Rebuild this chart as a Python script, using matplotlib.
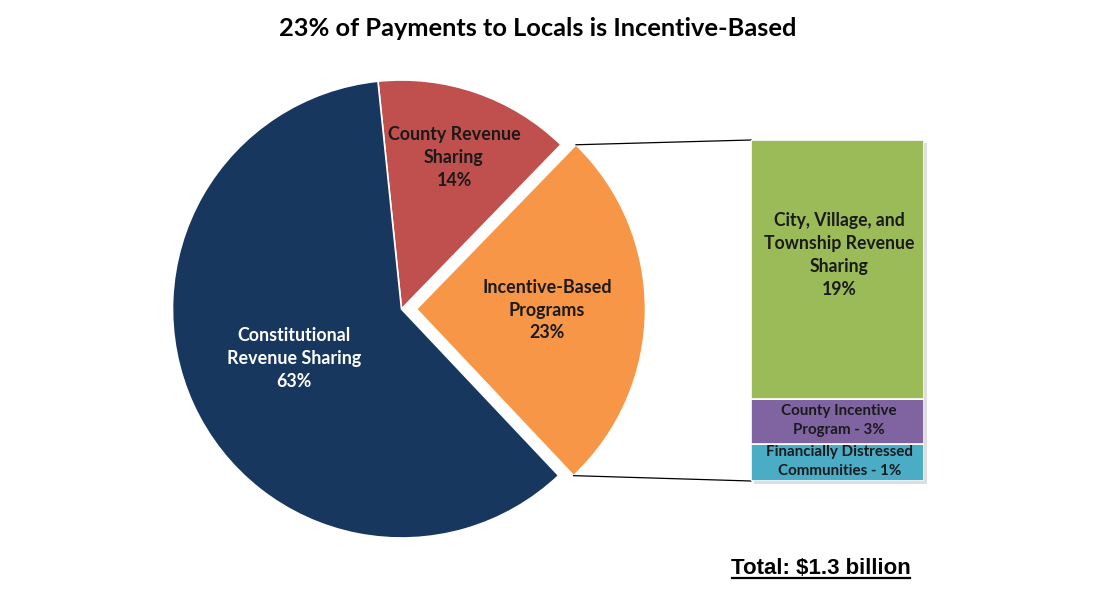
import matplotlib
matplotlib.use('Agg')
import matplotlib.pyplot as plt
import numpy as np
from matplotlib.lines import Line2D
from matplotlib.patches import Rectangle

W, H = 1109, 606

# ---- data ----
pie_labels = ['County Revenue\nSharing\n14%',
              'Incentive-Based\nPrograms\n23%',
              'Constitutional\nRevenue Sharing\n63%']
pie_values = [13.9, 25.7, 60.4]
pie_colors = ['#C0504D', '#F79646', '#17375E']
pie_text_colors = ['#1a1a1a', '#1a1a1a', 'white']

bar_labels = ['Financially Distressed\nCommunities - 1%',
              'County Incentive\nProgram - 3%',
              'City, Village, and\nTownship Revenue\nSharing\n19%']
bar_values = [2.8, 3.4, 19.5]
bar_colors = ['#4BACC6', '#8064A2', '#9BBB59']

title = '23% of Payments to Locals is Incentive-Based'
total_text = 'Total: $1.3 billion'

# ---- layout ----
FONT = 'Lato'
fig = plt.figure(figsize=(W / 100, H / 100), dpi=100)
ax = fig.add_axes([0, 0, 1, 1])

cx, cy, R = 401.5, H - 309, 229
wedges, _ = ax.pie(pie_values, colors=pie_colors, startangle=95.9,
                   counterclock=False, center=(cx, cy), radius=R,
                   wedgeprops=dict(edgecolor='white', linewidth=1.2))
ax.set_xlim(0, W)
ax.set_ylim(0, H)
ax.set_aspect('auto')
ax.axis('off')

# explode the incentive slice
ow = wedges[1]
tm = np.deg2rad((ow.theta1 + ow.theta2) / 2)
explode_px = 15
ow.set_center((cx + explode_px * np.cos(tm), cy + explode_px * np.sin(tm)))

label_dist = [0.70, 0.57, 0.515]
for w, lab, col, d in zip(wedges, pie_labels, pie_text_colors, label_dist):
    t = np.deg2rad((w.theta1 + w.theta2) / 2)
    x0, y0 = w.center
    ax.text(x0 + d * R * np.cos(t), y0 + d * R * np.sin(t), lab,
            ha='center', va='center', color=col, fontsize=12.9,
            fontweight='bold', family=FONT, linespacing=1.42)

# ---- bar of pie ----
bl, bb, bw, bh = 751, H - 481, 173, 341
# shadow
ax.add_patch(Rectangle((bl + 3, bb - 3), bw, bh, facecolor='#d0d0d0',
                       edgecolor='none', alpha=0.7, zorder=0))
bax = fig.add_axes([bl / W, bb / H, bw / W, bh / H])
bottoms = np.concatenate([[0], np.cumsum(bar_values)[:-1]])
bax.bar(0, bar_values, bottom=bottoms, width=1, color=bar_colors,
        edgecolor='white', linewidth=1.2)
bax.set_xlim(-0.5, 0.5)
bax.set_ylim(0, sum(bar_values))
bax.axis('off')

bar_fs = [10.9, 10.9, 12.7]
bar_ls = [1.45, 1.45, 1.43]
bar_shift = [0.1, 0.05, 1.1]
for b, v, lab, fs, ls, sh in zip(bottoms, bar_values, bar_labels, bar_fs,
                                 bar_ls, bar_shift):
    bax.text(0.01, b + v / 2 + sh, lab, ha='center', va='center',
             fontsize=fs, fontweight='bold', family=FONT,
             color='#1a1a1a', linespacing=ls)

# connector lines
ocx, ocy = ow.center
for th, by in [(ow.theta2, bb + bh), (ow.theta1, bb)]:
    t = np.deg2rad(th)
    px, py = ocx + R * np.cos(t), ocy + R * np.sin(t)
    ax.add_line(Line2D([px, bl], [py, by], color='black', lw=0.9))

# ---- texts ----
ax.text(538, H - 28, title, ha='center', va='center', fontsize=18.3,
        fontweight='bold', family=FONT, color='black')
tt = ax.text(821, H - 568, total_text, ha='center', va='center',
             fontsize=16, fontweight='bold', family='Liberation Sans',
             color='black')
fig.canvas.draw()
ext = tt.get_window_extent(fig.canvas.get_renderer())
ax.add_line(Line2D([ext.x0 + 1, ext.x1 - 1], [ext.y0 + 1, ext.y0 + 1],
                   color='black', lw=1.6))

fig.savefig('out.png', dpi=100, facecolor='white')
